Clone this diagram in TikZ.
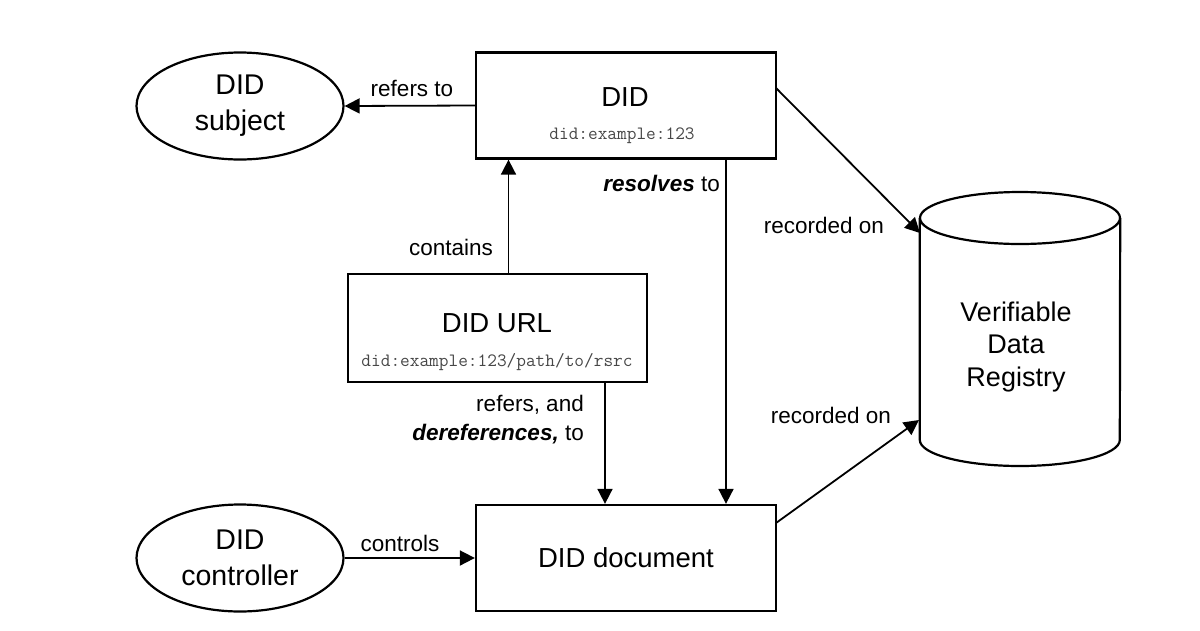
\documentclass[tikz,border=0pt]{standalone}
\usepackage{fontspec}
\setmainfont{Liberation Sans}
\usetikzlibrary{arrows.meta,shapes.geometric}
\begin{document}
\begin{tikzpicture}[x=1pt,y=-1pt,
  box/.style={draw,rectangle,line width=2.3pt,inner sep=0pt,font=\fontsize{27.5}{32}\selectfont},
  ell/.style={draw,ellipse,line width=2.2pt,minimum width=207pt,minimum height=107pt,inner sep=0pt,
    font=\fontsize{28.5}{36}\selectfont,align=center},
  big/.style={font=\fontsize{27.5}{32}\selectfont,inner sep=0pt},
  mono/.style={font=\ttfamily\fontsize{18.8}{22}\selectfont,text=black!72,inner sep=0pt},
  lbl/.style={font=\fontsize{22.5}{29}\selectfont,inner sep=0pt},
  arr/.style={line width=1.8pt,-{Triangle[length=15pt,width=15pt]}},
  cyl/.style={line width=2.2pt},
]
\useasboundingbox (0,0) rectangle (1200,630);

% nodes
\node[ell] (subj) at (240,106) {DID\\subject};
\node[ell] (ctrl) at (240,558) {DID\\controller};
\node[box,minimum width=300pt,minimum height=106pt] (did) at (626,105.5) {};
\node[big] (didt) at (625,97) {DID};
\node[mono] (didm) at (622,136) {did:example:123};
\node[box,minimum width=299pt,minimum height=108pt] (url) at (497.5,328) {};
\node[big] (urlt) at (497,323) {DID URL};
\node[mono] (urlm) at (497,362) {did:example:123/path/to/rsrc};
\node[box,minimum width=300pt,minimum height=106pt] (doc) at (626,558) {DID document};

% cylinder
\node[minimum width=200pt,minimum height=274pt,inner sep=0pt] (vdr) at (1020,329) {};
\draw[cyl] (vdr.center |- 0,218) ellipse [x radius=100, y radius=26];
\draw[cyl] (vdr.west |- 0,218) -- (vdr.west |- 0,440)
  arc[start angle=180, end angle=0, x radius=100, y radius=26] -- (vdr.east |- 0,218);
\node[font=\fontsize{27}{32.5}\selectfont,align=center,inner sep=0pt] (vdrt) at (1016,347) {Verifiable\\Data\\Registry};

% helper coordinates
\coordinate (xc) at (508.5,0);
\coordinate (xr) at (726,0);
\coordinate (xd) at (605,0);
\coordinate (r1s) at (776,88);
\coordinate (r1e) at (920,233);
\coordinate (r2s) at (776,523);
\coordinate (r2e) at (919,420);

% connectors
\draw[arr] (did.west) -- (subj.east);
\draw[arr] (url.north -| xc) -- (did.south -| xc);
\draw[arr] (did.south -| xr) -- (doc.north -| xr);
\draw[arr] (url.south -| xd) -- (doc.north -| xd);
\draw[arr] (ctrl.east) -- (doc.west);
\draw[arr] (r1s) -- (r1e);
\draw[arr] (r2s) -- (r2e);

% labels
\node[lbl] (l1) at (412,88) {refers to};
\node[lbl,anchor=east] (l2) at (720,183) {\textbf{\textit{resolves}} to};
\node[lbl] (l3) at (451,247) {contains};
\node[lbl,anchor=east,align=right] (l4) at (584,420) {refers, and\\\textbf{\textit{dereferences,}} to};
\node[lbl] (l5) at (400,543) {controls};
\node[lbl] (l6) at (824,225) {recorded on};
\node[lbl] (l7) at (831,415) {recorded on};
\end{tikzpicture}
\end{document}
